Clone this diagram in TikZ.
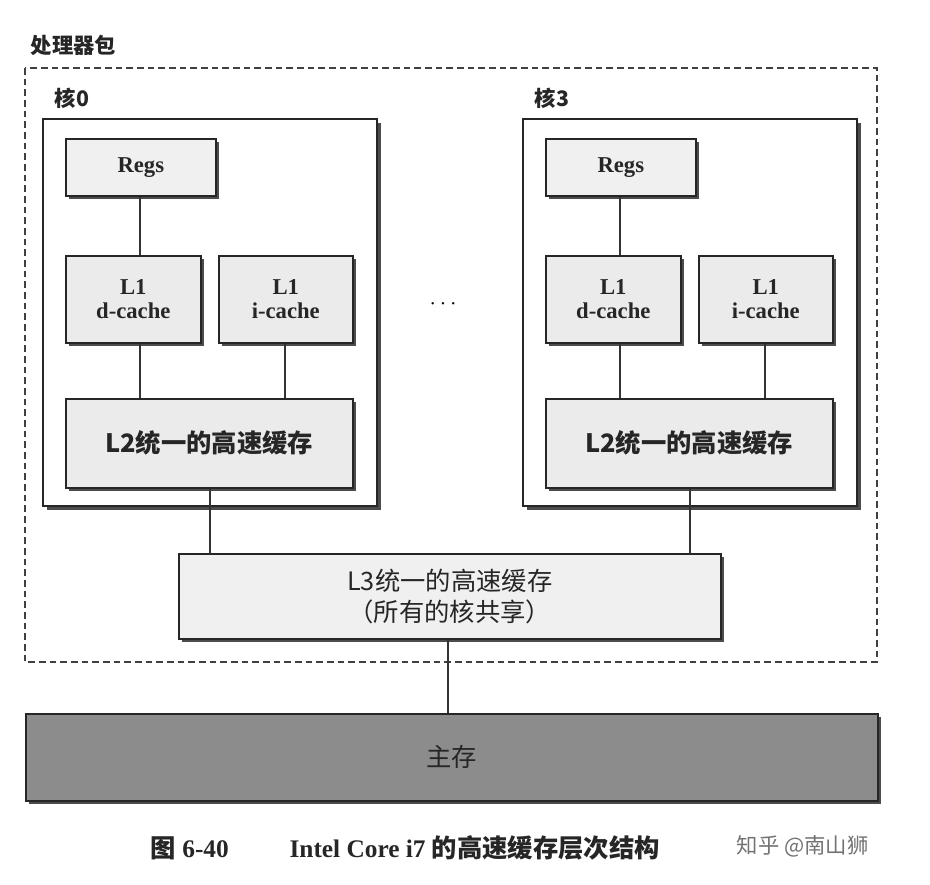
\documentclass[tikz,border=0pt]{standalone}
\usetikzlibrary{shadows}
\usepackage{fontspec}
\setmainfont{Liberation Serif}
\newfontfamily\cjk{Noto Sans CJK SC}
\begin{document}
\begin{tikzpicture}[x=0.75pt,y=-0.75pt,
  box/.style={draw=black!85,line width=1.2pt,fill=#1,
    general shadow={fill=black!70,shadow xshift=2.5pt,shadow yshift=-2.5pt}},
  box/.default=black!8,
  t/.style={font=\bfseries\fontsize{17}{18}\selectfont,align=center,text=black!85},
  c/.style={font=\cjk\fontsize{19}{23}\selectfont,align=center,text=black!85},
  ln/.style={draw=black!80,line width=0.9pt}]
\useasboundingbox (0,0) rectangle (930,884);
\fill[white] (0,0) rectangle (930,884);
\node[c,anchor=west,font=\bfseries\cjk\fontsize{16}{18}\selectfont] (pkg) at (26,45) {处理器包};
\draw[dash pattern=on 5pt off 3pt,line width=1pt,black!75] (25,68) rectangle (877,662);
\foreach \ox/\lab/\nm in {0/核0/a,480/核3/b}{
  \begin{scope}[xshift=\ox*0.75pt]
  \node[c,anchor=west,font=\bfseries\cjk\fontsize{16}{18}\selectfont] (lab\nm) at (50,98) {\lab};
  \node[draw=black!85,line width=1.2pt,fill=white,minimum width=334*0.75pt,minimum height=387*0.75pt,anchor=north west,
    general shadow={fill=black!70,shadow xshift=3pt,shadow yshift=-3pt}] (core\nm) at (42,118) {};
  \node[box=black!6,anchor=north west,minimum width=150*0.75pt,minimum height=57*0.75pt,t] (regs\nm) at (65,138) {Regs};
  \node[box,anchor=north west,minimum width=135*0.75pt,minimum height=87*0.75pt,t] (ld\nm) at (65,255) {L1\\d-cache};
  \node[box,anchor=north west,minimum width=134*0.75pt,minimum height=87*0.75pt,t] (li\nm) at (218,255) {L1\\i-cache};
  \node[box,anchor=north west,minimum width=287*0.75pt,minimum height=89*0.75pt,c,font=\bfseries\cjk\fontsize{19}{22}\selectfont] (l2\nm) at (65,398) {L2统一的高速缓存};
  \end{scope}}
\draw[ln] (regsa.south -| 140,0) -- (lda.north -| 140,0);
\draw[ln] (lda.south -| 140,0) -- (l2a.north -| 140,0);
\draw[ln] (lia.south -| 285,0) -- (l2a.north -| 285,0);
\draw[ln] (regsb.south -| 620,0) -- (ldb.north -| 620,0);
\draw[ln] (ldb.south -| 620,0) -- (l2b.north -| 620,0);
\draw[ln] (lib.south -| 765,0) -- (l2b.north -| 765,0);
\node[font=\fontsize{16}{16}\selectfont] (dots) at (443,304) {$\cdots$};
\node[box=black!6,anchor=north west,minimum width=542*0.75pt,minimum height=85*0.75pt,c] (l3) at (178,553) {L3统一的高速缓存\\（所有的核共享）};
\draw[ln] (l2a.south -| 210,0) -- (l3.north -| 210,0);
\draw[ln] (l2b.south -| 690,0) -- (l3.north -| 690,0);
\node[box=black!45,anchor=north west,minimum width=852*0.75pt,minimum height=87*0.75pt,c] (mem) at (25,713) {主存};
\draw[ln] (l3.south -| 448,0) -- (mem.north -| 448,0);
\node[anchor=west,font=\bfseries\fontsize{19}{20}\selectfont,text=black!85] (cap) at (146,848) {{\cjk 图} 6-40\hspace{2.4em}Intel Core i7 {\cjk 的高速缓存层次结构}};
\node[anchor=west,font=\cjk\fontsize{16}{18}\selectfont,text=black!55] (wm) at (732,846) {知乎 @南山狮};
\end{tikzpicture}
\end{document}
